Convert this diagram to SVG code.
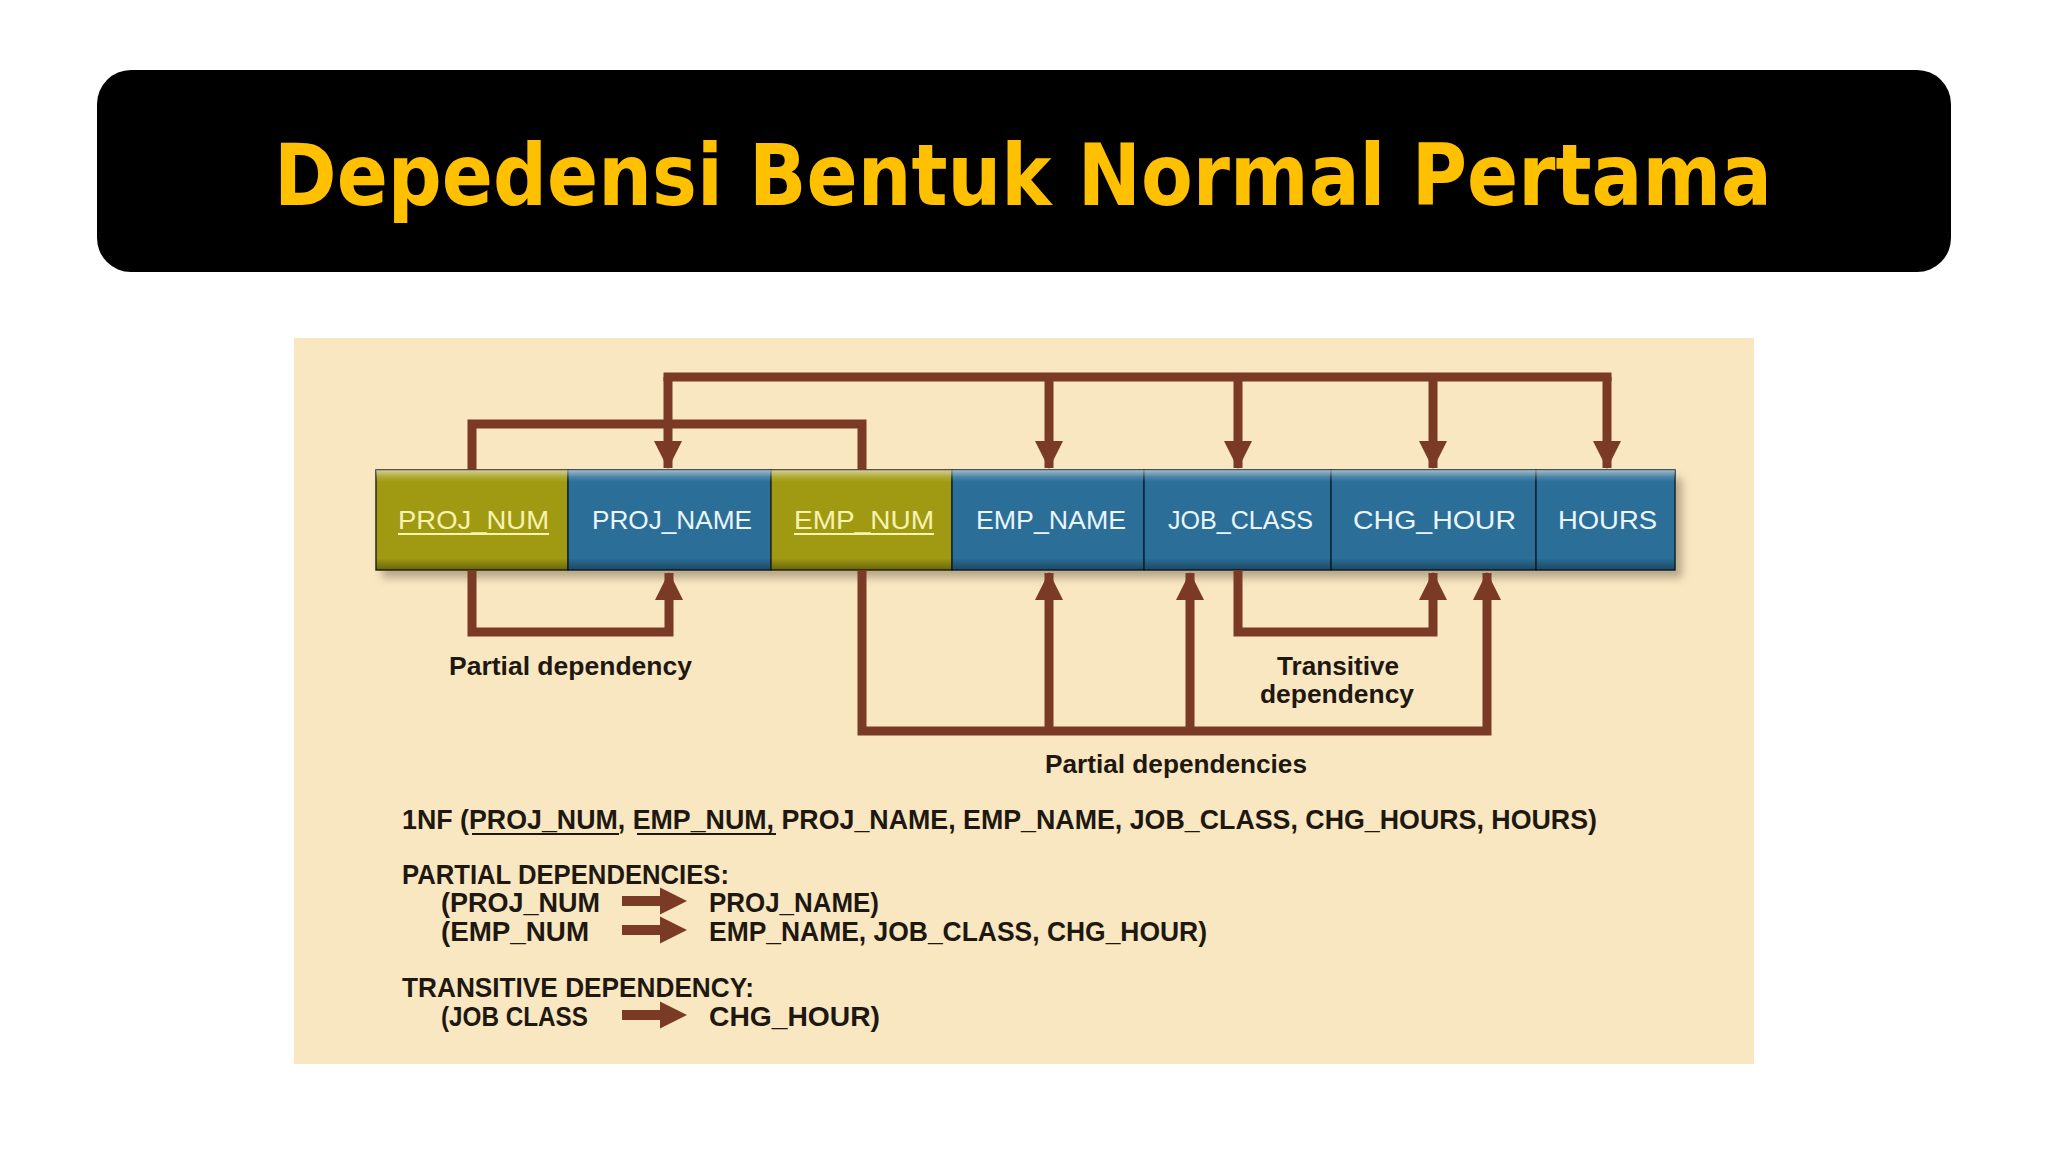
<svg xmlns="http://www.w3.org/2000/svg" width="2048" height="1152" viewBox="0 0 2048 1152">
  <style>
    .title { font-family: "DejaVu Sans", "Liberation Sans", sans-serif; font-weight: bold; font-size: 85px; fill: #FFC000; }
    .lbl { font-family: "Liberation Sans", Arial, sans-serif; font-size: 26px; text-anchor: middle; }
    .lb { fill: #EAF5F9; }
    .lo { fill: #F8F2B0; }
    .note { font-family: "Liberation Sans", Arial, sans-serif; font-weight: bold; font-size: 25px; fill: #1E1810; }
    .body { font-family: "Liberation Sans", Arial, sans-serif; font-weight: bold; font-size: 28px; fill: #1E1810; }
    .olive { fill: #A09A12; stroke: #2a2a10; stroke-width: 1.5; }
    .blue { fill: #2B6F98; stroke: #0f2533; stroke-width: 1.5; }
    .conn { fill: none; stroke: #7A3A25; stroke-width: 9; stroke-linejoin: miter; }
    .ul { stroke: #F8F2B0; stroke-width: 2.2; }
    .uld { stroke: #1E1810; stroke-width: 2.2; }
  </style>
  <defs>
    <marker id="ah" viewBox="0 0 28 28" markerWidth="28" markerHeight="28" refX="27" refY="14" orient="auto" markerUnits="userSpaceOnUse">
      <path d="M0,0 L28,14 L0,28 z" fill="#7A3A25"/>
    </marker>
    <linearGradient id="bevel" x1="0" y1="0" x2="0" y2="1">
      <stop offset="0" stop-color="#ffffff" stop-opacity="0.55"/>
      <stop offset="0.07" stop-color="#ffffff" stop-opacity="0.15"/>
      <stop offset="0.12" stop-color="#ffffff" stop-opacity="0"/>
      <stop offset="0.88" stop-color="#000000" stop-opacity="0"/>
      <stop offset="1" stop-color="#000000" stop-opacity="0.35"/>
    </linearGradient>
    <filter id="shadow" x="-5%" y="-30%" width="110%" height="160%">
      <feGaussianBlur stdDeviation="4"/>
    </filter>
    <path id="fat" d="M0,-5 H38 V-13.5 L65,0 L38,13.5 V5 H0 z" fill="#7A3A25"/>
  </defs>

  <rect width="2048" height="1152" fill="#ffffff"/>

  <g id="title">
    <rect x="97" y="70" width="1854" height="202" rx="34" ry="34" fill="#000000"/>
    <text class="title" x="274" y="205" textLength="1498" lengthAdjust="spacingAndGlyphs">Depedensi Bentuk Normal Pertama</text>
  </g>

  <rect id="panel" x="294" y="338" width="1460" height="726" fill="#F9E7C2"/>

  <rect x="382" y="478" width="1300" height="100" fill="#6b5a40" opacity="0.45" filter="url(#shadow)"/>

  <g id="PROJ_NUM">
    <rect class="olive" x="376" y="470" width="192" height="100"/>
    <text class="lbl lo" x="473.5" y="529" textLength="151" lengthAdjust="spacingAndGlyphs">PROJ_NUM</text>
    <line class="ul" x1="398" y1="534" x2="549" y2="534"/>
  </g>
  <g id="PROJ_NAME">
    <rect class="blue" x="568" y="470" width="203" height="100"/>
    <text class="lbl lb" x="672" y="529" textLength="160" lengthAdjust="spacingAndGlyphs">PROJ_NAME</text>
  </g>
  <g id="EMP_NUM">
    <rect class="olive" x="771" y="470" width="181" height="100"/>
    <text class="lbl lo" x="864" y="529" textLength="140" lengthAdjust="spacingAndGlyphs">EMP_NUM</text>
    <line class="ul" x1="794" y1="534" x2="934" y2="534"/>
  </g>
  <g id="EMP_NAME">
    <rect class="blue" x="952" y="470" width="192" height="100"/>
    <text class="lbl lb" x="1051" y="529" textLength="150" lengthAdjust="spacingAndGlyphs">EMP_NAME</text>
  </g>
  <g id="JOB_CLASS">
    <rect class="blue" x="1144" y="470" width="187" height="100"/>
    <text class="lbl lb" x="1240.5" y="529" textLength="145" lengthAdjust="spacingAndGlyphs">JOB_CLASS</text>
  </g>
  <g id="CHG_HOUR">
    <rect class="blue" x="1331" y="470" width="205" height="100"/>
    <text class="lbl lb" x="1434.5" y="529" textLength="163" lengthAdjust="spacingAndGlyphs">CHG_HOUR</text>
  </g>
  <g id="HOURS">
    <rect class="blue" x="1536" y="470" width="139" height="100"/>
    <text class="lbl lb" x="1607.5" y="529" textLength="99" lengthAdjust="spacingAndGlyphs">HOURS</text>
  </g>
  <rect x="376" y="470" width="1299" height="100" fill="url(#bevel)"/>

  <g id="connectors">
    <path class="conn" d="M472,470 V424 H862 V470"/>
    <path class="conn" d="M668,377 H1607" stroke-linecap="square"/>
    <path class="conn" d="M668,377 V468" marker-end="url(#ah)"/>
    <path class="conn" d="M1049,377 V468" marker-end="url(#ah)"/>
    <path class="conn" d="M1238,377 V468" marker-end="url(#ah)"/>
    <path class="conn" d="M1433,377 V468" marker-end="url(#ah)"/>
    <path class="conn" d="M1607,377 V468" marker-end="url(#ah)"/>
    <path class="conn" d="M472,570 V632 H669 V573" marker-end="url(#ah)"/>
    <path class="conn" d="M862,570 V731 H1487 V573" marker-end="url(#ah)"/>
    <path class="conn" d="M1049,731 V573" marker-end="url(#ah)"/>
    <path class="conn" d="M1190,731 V573" marker-end="url(#ah)"/>
    <path class="conn" d="M1238,570 V632 H1433 V573" marker-end="url(#ah)"/>
  </g>

  <g id="labels">
    <text class="note" x="449" y="675" textLength="243" lengthAdjust="spacingAndGlyphs">Partial dependency</text>
    <text class="note" x="1338" y="675" text-anchor="middle" textLength="122" lengthAdjust="spacingAndGlyphs">Transitive</text>
    <text class="note" x="1337" y="703" text-anchor="middle" textLength="154" lengthAdjust="spacingAndGlyphs">dependency</text>
    <text class="note" x="1045" y="773" textLength="262" lengthAdjust="spacingAndGlyphs">Partial dependencies</text>
  </g>

  <g id="notation">
    <text class="body" x="402" y="829" textLength="1195" lengthAdjust="spacingAndGlyphs">1NF (PROJ_NUM, EMP_NUM, PROJ_NAME, EMP_NAME, JOB_CLASS, CHG_HOURS, HOURS)</text>
    <line class="uld" x1="472" y1="834" x2="619" y2="834"/>
    <line class="uld" x1="637" y1="834" x2="776" y2="834"/>
    <text class="body" x="402" y="884" textLength="327" lengthAdjust="spacingAndGlyphs">PARTIAL DEPENDENCIES:</text>
    <text class="body" x="441" y="912" textLength="159" lengthAdjust="spacingAndGlyphs">(PROJ_NUM</text>
    <use href="#fat" x="622" y="901"/>
    <text class="body" x="709" y="912" textLength="170" lengthAdjust="spacingAndGlyphs">PROJ_NAME)</text>
    <text class="body" x="441" y="941" textLength="148" lengthAdjust="spacingAndGlyphs">(EMP_NUM</text>
    <use href="#fat" x="622" y="930"/>
    <text class="body" x="709" y="941" textLength="498" lengthAdjust="spacingAndGlyphs">EMP_NAME, JOB_CLASS, CHG_HOUR)</text>
    <text class="body" x="402" y="997" textLength="352" lengthAdjust="spacingAndGlyphs">TRANSITIVE DEPENDENCY:</text>
    <text class="body" x="441" y="1026" textLength="147" lengthAdjust="spacingAndGlyphs">(JOB CLASS</text>
    <use href="#fat" x="622" y="1015"/>
    <text class="body" x="709" y="1026" textLength="171" lengthAdjust="spacingAndGlyphs">CHG_HOUR)</text>
  </g>
</svg>
